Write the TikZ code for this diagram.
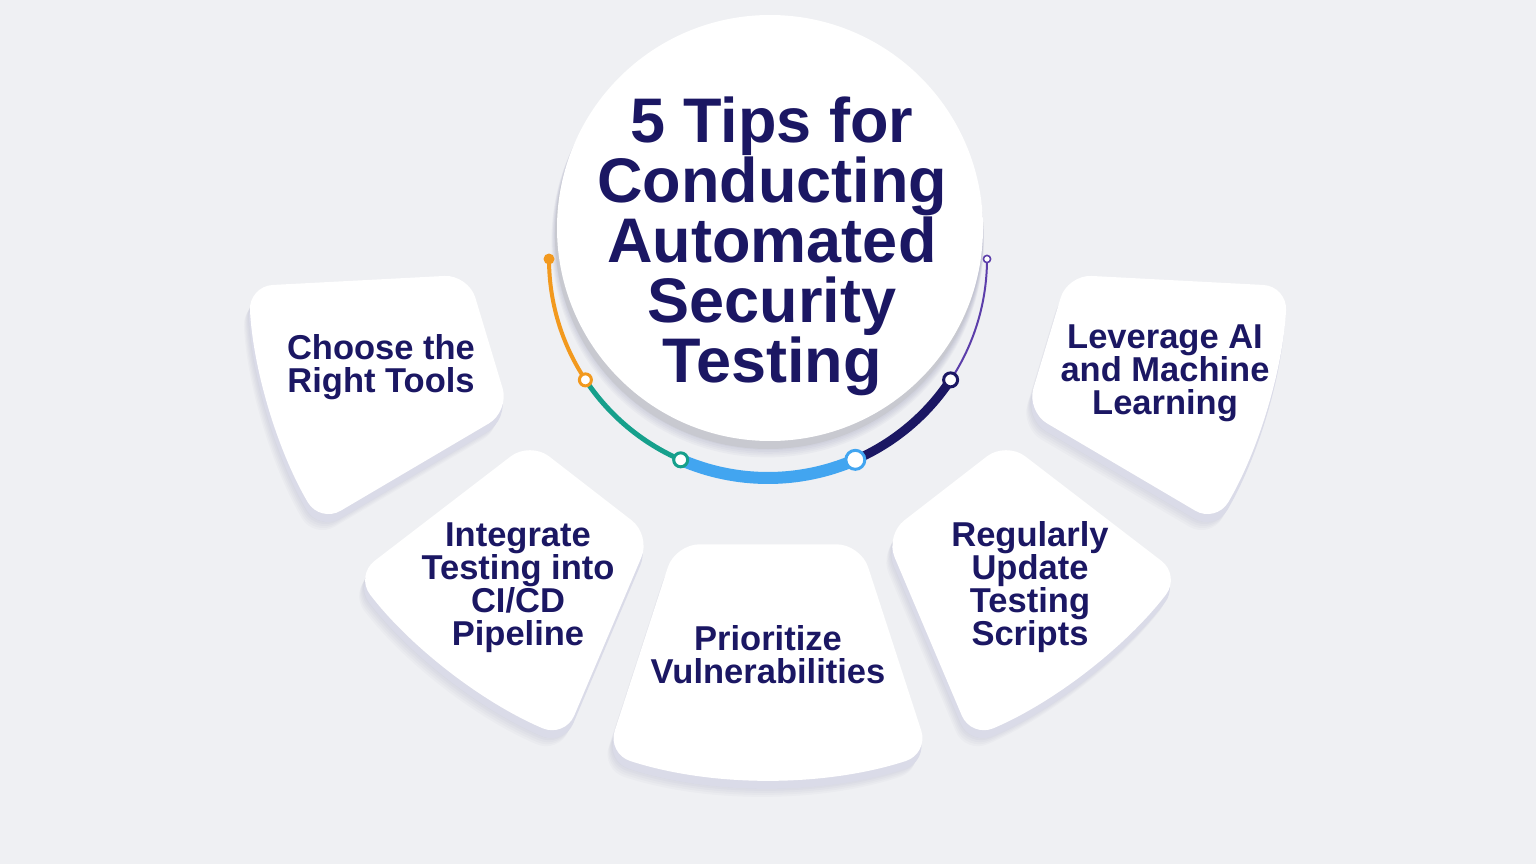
\documentclass[tikz,border=0pt]{standalone}
\usepackage{fontspec}
\setmainfont{Liberation Sans}
\usetikzlibrary{calc}
\definecolor{bgcol}{RGB}{239,240,243}
\definecolor{tipnavy}{RGB}{27,23,99}
\definecolor{tiporange}{RGB}{242,153,30}
\definecolor{tipteal}{RGB}{22,160,140}
\definecolor{tipblue}{RGB}{66,165,240}
\definecolor{tippurple}{RGB}{92,62,170}
\definecolor{cardedge}{RGB}{218,219,232}
\definecolor{shadowcol}{RGB}{120,122,160}
\definecolor{circleedge}{RGB}{200,201,208}
% one tip card: outer arc, straight inner edge
\newcommand{\tipshape}[2]{(#1:520) arc[start angle=#1, end angle=#2, radius=520] -- (#2:300) -- (#1:300) -- cycle}

\begin{document}
\begin{tikzpicture}[x=0.5pt,y=0.5pt,
  tiptext/.style={text=tipnavy, font=\fontsize{17.25}{16.5}\selectfont\bfseries, align=center},
  junction/.style={circle, fill=white, line width=1.5pt, inner sep=0pt}]
\fill[bgcol] (0,0) rectangle (1536,864);
\useasboundingbox (0,0) rectangle (1536,864);
% cards
\begin{scope}[shift={(768,605)}]
  \foreach \a/\b in {183/210.5, 217.5/247, 252/288, 293/322.5, 329.5/357} {
    \foreach \k in {1,...,6}
      \fill[shadowcol, opacity=0.04, rounded corners=12pt, shift={(-\k,-2*\k-4)}] \tipshape{\a}{\b};
    \fill[cardedge, rounded corners=12pt, shift={(-1,-8)}] \tipshape{\a}{\b};
  }
  \foreach \a/\b in {183/210.5, 217.5/247, 252/288, 293/322.5, 329.5/357}
    \fill[white, rounded corners=12pt] \tipshape{\a}{\b};
\end{scope}
% centre circle
\foreach \k in {1,...,8}
  \fill[shadowcol, opacity=0.05] (770-\k*0.3, 634-\k*1.4) circle (213+\k*0.4);
\fill[circleedge] (768,628) circle (213);
\fill[white] (770,636) circle (213);
\node[text=tipnavy, font=\fontsize{31.5}{30}\selectfont\bfseries, align=center] (title) at (772,617.5)
  {5 Tips for\\Conducting\\Automated\\Security\\Testing};
% coloured ring
\begin{scope}[shift={(768,605)}]
  \foreach \n/\ang in {0/180, 1/213.5, 2/246.5, 3/293.5, 4/326.5, 5/360}
    \coordinate (p\n) at (\ang:219);
  \draw[tiporange, line width=2pt] (p0) arc[start angle=180, end angle=213.5, radius=219];
  \draw[tipteal, line width=2.5pt] (p1) arc[start angle=213.5, end angle=246.5, radius=219];
  \draw[tipblue, line width=6pt] (p2) arc[start angle=246.5, end angle=293.5, radius=219];
  \draw[tipnavy, line width=4.5pt] (p3) arc[start angle=293.5, end angle=326.5, radius=219];
  \draw[tippurple, line width=1pt] (p4) arc[start angle=326.5, end angle=360, radius=219];
\end{scope}
\node[circle, fill=tiporange, inner sep=0pt, minimum size=5.5pt] (e0) at (p0) {};
\node[junction, draw=tiporange, minimum size=6pt] (j1) at (p1) {};
\node[junction, draw=tipteal, minimum size=7pt] (j2) at (p2) {};
\node[junction, draw=tipblue, minimum size=9.5pt] (j3) at (p3) {};
\node[junction, draw=tipnavy, minimum size=7pt] (j4) at (p4) {};
\node[junction, draw=tippurple, line width=0.8pt, minimum size=3.6pt] (e5) at (p5) {};
% tips
\node[tiptext] (tools) at (381,497) {Choose the\\Right Tools};
\node[tiptext] (cicd) at (518,276.5) {Integrate\\Testing into\\CI/CD\\Pipeline};
\node[tiptext] (vuln) at (768,209) {Prioritize\\Vulnerabilities};
\node[tiptext] (scripts) at (1030,276.5) {Regularly\\Update\\Testing\\Scripts};
\node[tiptext] (ai) at (1165,491) {Leverage AI\\and Machine\\Learning};
\end{tikzpicture}
\end{document}
